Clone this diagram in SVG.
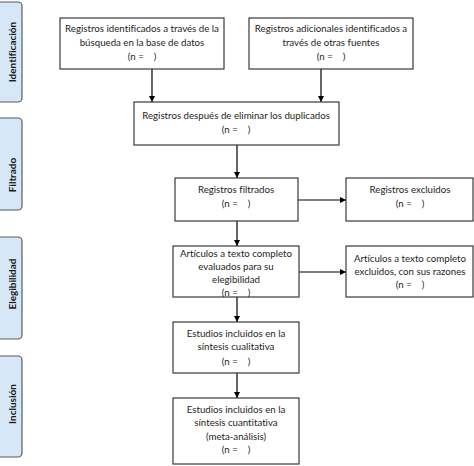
<svg xmlns="http://www.w3.org/2000/svg" width="474" height="466" viewBox="0 0 474 466">
<defs>
<marker id="ah" viewBox="0 0 10 10" refX="10" refY="5" markerWidth="6" markerHeight="6" markerUnits="userSpaceOnUse" orient="auto">
<path d="M0,0 L10,5 L0,10 Z" fill="#000"/>
</marker>
</defs>
<style>
.box{fill:#fff;stroke:#3a3a3a;stroke-width:1.2}
.phase{fill:#d6e8f7;stroke:#5a5a5a;stroke-width:1.2}
.t{font-family:Lato,"Open Sans","Liberation Sans",sans-serif;font-size:9.7px;fill:#241e1a;text-anchor:middle;font-variant-ligatures:none}
.p{font-family:Lato,"Open Sans","Liberation Sans",sans-serif;font-size:10px;font-weight:bold;fill:#1a1a1a;text-anchor:middle;font-variant-ligatures:none}
.c{stroke:#000;stroke-width:1.2;fill:none;marker-end:url(#ah)}
</style>
<rect width="474" height="466" fill="#fff"/>
<g id="phase-identificacion"><rect class="phase" x="-8" y="2" width="30" height="100" rx="4"/><text class="p" transform="translate(16,52) rotate(-90)">Identificación</text></g>
<g id="phase-filtrado"><rect class="phase" x="-8" y="118" width="30" height="92" rx="4"/><text class="p" transform="translate(16,175) rotate(-90)">Filtrado</text></g>
<g id="phase-elegibilidad"><rect class="phase" x="-8" y="237" width="30" height="102" rx="4"/><text class="p" transform="translate(16,284) rotate(-90)">Elegibilidad</text></g>
<g id="phase-inclusion"><rect class="phase" x="-8" y="356" width="30" height="101" rx="4"/><text class="p" transform="translate(16,404) rotate(-90)">Inclusión</text></g>
<g id="connectors">
<line class="c" x1="152" y1="69" x2="152" y2="102"/>
<line class="c" x1="321" y1="69" x2="321" y2="102"/>
<line class="c" x1="237" y1="145" x2="237" y2="178"/>
<line class="c" x1="298" y1="200" x2="346" y2="200"/>
<line class="c" x1="237" y1="221" x2="237" y2="246"/>
<line class="c" x1="299" y1="272" x2="346" y2="272"/>
<line class="c" x1="237" y1="297" x2="237" y2="322"/>
<line class="c" x1="237" y1="373" x2="237" y2="398"/>
</g>
<g id="n1"><rect class="box" x="60" y="18" width="164" height="51"/>
<text class="t" x="142" y="32">Registros identificados a través de la</text>
<text class="t" x="142" y="46">búsqueda en la base de datos</text>
<text class="t" x="142" y="60">(n =&#160;&#160;&#160; )</text></g>
<g id="n2"><rect class="box" x="249" y="18" width="164" height="51"/>
<text class="t" x="331" y="32">Registros adicionales identificados a</text>
<text class="t" x="331" y="46">través de otras fuentes</text>
<text class="t" x="331" y="60">(n =&#160;&#160;&#160; )</text></g>
<g id="n3"><rect class="box" x="134" y="102" width="205" height="43"/>
<text class="t" x="236" y="119">Registros después de eliminar los duplicados</text>
<text class="t" x="236" y="133">(n =&#160;&#160;&#160; )</text></g>
<g id="n4"><rect class="box" x="175" y="178" width="123" height="43"/>
<text class="t" x="236" y="193">Registros filtrados</text>
<text class="t" x="236" y="207">(n =&#160;&#160;&#160; )</text></g>
<g id="n5"><rect class="box" x="346" y="178" width="127" height="43"/>
<text class="t" x="410" y="193">Registros excluidos</text>
<text class="t" x="410" y="207">(n =&#160;&#160;&#160; )</text></g>
<g id="n6"><rect class="box" x="173" y="246" width="126" height="51"/>
<text class="t" x="236" y="257">Artículos a texto completo</text>
<text class="t" x="236" y="270">evaluados para su</text>
<text class="t" x="236" y="283">elegibilidad</text>
<text class="t" x="236" y="296">(n =&#160;&#160;&#160; )</text></g>
<g id="n7"><rect class="box" x="346" y="246" width="127" height="51"/>
<text class="t" x="410" y="262">Artículos a texto completo</text>
<text class="t" x="410" y="275">excluidos, con sus razones</text>
<text class="t" x="410" y="288">(n =&#160;&#160;&#160; )</text></g>
<g id="n8"><rect class="box" x="173" y="322" width="126" height="51"/>
<text class="t" x="236" y="337">Estudios incluidos en la</text>
<text class="t" x="236" y="350">síntesis cualitativa</text>
<text class="t" x="236" y="365">(n =&#160;&#160;&#160; )</text></g>
<g id="n9"><rect class="box" x="173" y="398" width="126" height="66"/>
<text class="t" x="236" y="413">Estudios incluidos en la</text>
<text class="t" x="236" y="426">síntesis cuantitativa</text>
<text class="t" x="236" y="440">(meta-análisis)</text>
<text class="t" x="236" y="453">(n =&#160;&#160;&#160; )</text></g>
</svg>
